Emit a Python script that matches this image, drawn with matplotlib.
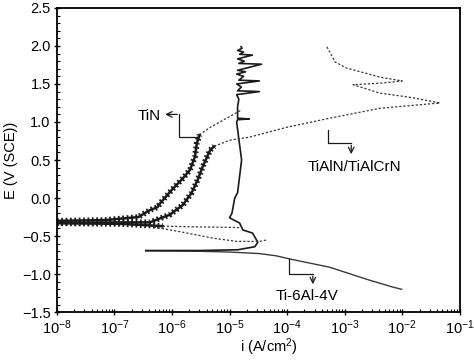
import matplotlib
matplotlib.use("Agg")
import matplotlib.pyplot as plt
from matplotlib.ticker import MultipleLocator, FixedLocator, LogLocator, LogFormatterMathtext, NullFormatter

plt.rcParams["font.family"] = ["Liberation Sans", "DejaVu Sans"]
plt.rcParams["mathtext.fontset"] = "custom"
plt.rcParams["mathtext.rm"] = "Liberation Sans"
plt.rcParams["mathtext.it"] = "Liberation Sans:italic"
plt.rcParams["mathtext.bf"] = "Liberation Sans:bold"

# ---------------------------------------------------------------
# Data (current density in A/cm^2, potential in V vs SCE)
# ---------------------------------------------------------------
# Ti-6Al-4V substrate, cathodic branch
ti64_cat_i = [3.5e-7, 3.0e-6, 1.0e-5, 1.8e-5, 3.3e-5, 6.5e-5, 1.1e-4,
              5.5e-4, 2.7e-3, 6.8e-3, 9.8e-3]
ti64_cat_E = [-0.695, -0.70, -0.71, -0.72, -0.73, -0.76, -0.80,
              -0.91, -1.08, -1.17, -1.20]

# Ti-6Al-4V substrate, anodic branch (passive region with noisy top)
ti64_an_i = [3.5e-7, 3.0e-6, 1.4e-5, 2.75e-5, 3.1e-5, 2.5e-5, 1.7e-5,
             1.5e-5, 1.0e-5, 1.1e-5, 1.23e-5, 1.38e-5, 1.62e-5, 1.38e-5,
             1.33e-5, 1.38e-5, 2.2e-5, 1.38e-5, 1.38e-5, 1.45e-5, 1.33e-5,
             3.3e-5, 1.38e-5, 1.6e-5, 1.33e-5, 3.3e-5, 1.45e-5, 1.75e-5,
             1.33e-5, 1.9e-5, 1.38e-5, 3.6e-5, 1.45e-5, 1.8e-5, 1.38e-5,
             2.5e-5, 1.5e-5, 1.75e-5, 1.38e-5, 1.65e-5, 1.58e-5]
ti64_an_E = [-0.69, -0.69, -0.68, -0.64, -0.58, -0.46, -0.42,
             -0.33, -0.26, -0.20, 0.00, 0.07, 0.50, 0.90,
             1.00, 1.03, 1.04, 1.05, 1.20, 1.30, 1.36,
             1.40, 1.41, 1.46, 1.50, 1.54, 1.55, 1.60,
             1.63, 1.66, 1.68, 1.76, 1.77, 1.80, 1.83,
             1.88, 1.89, 1.92, 1.94, 1.97, 1.99]

# TiN coating (noisy measured part, then dotted continuation)
tin_i = [1.0e-8, 6.8e-8, 2.6e-7, 4.1e-7, 5.6e-7, 6.2e-7, 1.0e-6,
         1.55e-6, 2.05e-6, 2.5e-6, 2.7e-6, 3.0e-6]
tin_E = [-0.30, -0.29, -0.25, -0.16, -0.12, -0.07, 0.11,
         0.26, 0.37, 0.54, 0.72, 0.83]
tin_tail_i = [3.0e-6, 4.6e-6, 8.9e-6, 1.38e-5, 1.62e-5]
tin_tail_E = [0.83, 0.93, 1.05, 1.13, 1.16]

# TiAlN / TiAlCrN coatings
tialn_i = [1.0e-8, 1.35e-7, 4.1e-7, 9.1e-7, 1.55e-6, 2.2e-6, 2.8e-6,
           3.4e-6, 4.6e-6, 5.4e-6]
tialn_E = [-0.33, -0.32, -0.32, -0.22, -0.09, 0.07, 0.24,
           0.41, 0.63, 0.68]
tialn_tail_i = [5.4e-6, 1.0e-5, 2.2e-5, 9.8e-5, 5.5e-4, 4.1e-3, 4.5e-2,
                1.5e-2, 4.1e-3, 1.4e-3, 4.1e-3, 1.0e-2, 4.1e-3, 1.07e-3,
                6.8e-4, 4.9e-4]
tialn_tail_E = [0.68, 0.76, 0.80, 0.93, 1.05, 1.18, 1.25,
                1.32, 1.38, 1.49, 1.51, 1.54, 1.59, 1.71,
                1.79, 1.99]

# cathodic branches of the coatings
cat1_i = [1.0e-8, 1.35e-7, 4.1e-7, 6.9e-7]
cat1_E = [-0.33, -0.34, -0.36, -0.37]
cat1_tail_i = [6.9e-7, 3.0e-6, 1.0e-5, 1.7e-5]
cat1_tail_E = [-0.37, -0.38, -0.385, -0.39]
cat2_tail_i = [4.1e-7, 1.55e-6, 5.4e-6, 1.33e-5, 3.3e-5, 4.5e-5]
cat2_tail_E = [-0.37, -0.45, -0.53, -0.57, -0.57, -0.55]

x_ticks = [1e-8, 1e-7, 1e-6, 1e-5, 1e-4, 1e-3, 1e-2, 1e-1]

# ---------------------------------------------------------------
fig = plt.figure(figsize=(4.74, 3.6), dpi=100)
ax = fig.add_axes([0.120, 0.133, 0.850, 0.845])

DARK = "#1a1a1a"
GREY = "#3a3a3a"


def noisy(ax, x, y):
    # measured curves look thick and hairy
    ax.plot(x, y, color=DARK, lw=1.8, solid_joinstyle="round")
    ax.plot(x, y, color=DARK, lw=4.2, linestyle=(0, (0.3, 0.45)))


def dotted(ax, x, y, lw=0.9):
    ax.plot(x, y, color=GREY, lw=lw, linestyle=(0, (1.8, 1.5)))


ax.plot(ti64_cat_i, ti64_cat_E, color=GREY, lw=1.0)
ax.plot(ti64_an_i, ti64_an_E, color=DARK, lw=1.2)

noisy(ax, tin_i, tin_E)
dotted(ax, tin_tail_i, tin_tail_E)
noisy(ax, tialn_i, tialn_E)
dotted(ax, tialn_tail_i, tialn_tail_E)
noisy(ax, cat1_i, cat1_E)
dotted(ax, cat1_tail_i, cat1_tail_E)
dotted(ax, cat2_tail_i, cat2_tail_E)

# ---------------------------------------------------------------
# Labels with elbow arrows
# ---------------------------------------------------------------
arrow_kw = dict(color=DARK, lw=0.9)
head_kw = dict(arrowstyle="->", color=DARK, lw=0.9)
# TiN
ax.plot([3.0e-6, 1.35e-6, 1.35e-6], [0.80, 0.80, 1.10], **arrow_kw)
ax.annotate("", xy=(6.8e-7, 1.10), xytext=(1.38e-6, 1.10), arrowprops=head_kw)
ax.text(6.3e-7, 1.08, "TiN", ha="right", va="center", fontsize=11)
# TiAlN/TiAlCrN
ax.plot([5.2e-4, 5.2e-4, 1.3e-3], [0.89, 0.72, 0.72], **arrow_kw)
ax.annotate("", xy=(1.3e-3, 0.54), xytext=(1.3e-3, 0.73), arrowprops=head_kw)
ax.text(1.5e-3, 0.41, "TiAlN/TiAlCrN", ha="center", va="center", fontsize=11)
# Ti-6Al-4V
ax.plot([1.1e-4, 1.1e-4, 2.8e-4], [-0.80, -1.00, -1.00], **arrow_kw)
ax.annotate("", xy=(2.8e-4, -1.17), xytext=(2.8e-4, -0.99), arrowprops=head_kw)
ax.text(2.2e-4, -1.29, "Ti-6Al-4V", ha="center", va="center", fontsize=11)

# ---------------------------------------------------------------
# Axes
# ---------------------------------------------------------------
ax.set_xscale("log")
ax.set_xlim(1e-8, 1e-1)
ax.set_ylim(-1.5, 2.5)
ax.xaxis.set_major_locator(FixedLocator(x_ticks))
ax.xaxis.set_major_formatter(LogFormatterMathtext())
ax.xaxis.set_minor_locator(LogLocator(base=10, subs=range(2, 10), numticks=20))
ax.xaxis.set_minor_formatter(NullFormatter())
ax.yaxis.set_major_locator(MultipleLocator(0.5))
ax.yaxis.set_minor_locator(MultipleLocator(0.1))
ax.yaxis.set_major_formatter(plt.FuncFormatter(lambda v, p: f"{v:.1f}".replace("-", "\u2212")))

ax.tick_params(which="major", direction="inout", length=5, width=1.0,
               labelsize=10.5, top=False, right=False, pad=2)
ax.tick_params(which="minor", direction="in", length=2.5, width=0.8,
               top=False, right=False)
for sp in ax.spines.values():
    sp.set_linewidth(1.3)

ax.set_xlabel("i (A/cm$^2$)", fontsize=10.5)
ax.xaxis.set_label_coords(0.525, -0.08)
ax.set_ylabel("E (V (SCE))", fontsize=10.5, labelpad=3)

fig.savefig("out.png", dpi=100)
